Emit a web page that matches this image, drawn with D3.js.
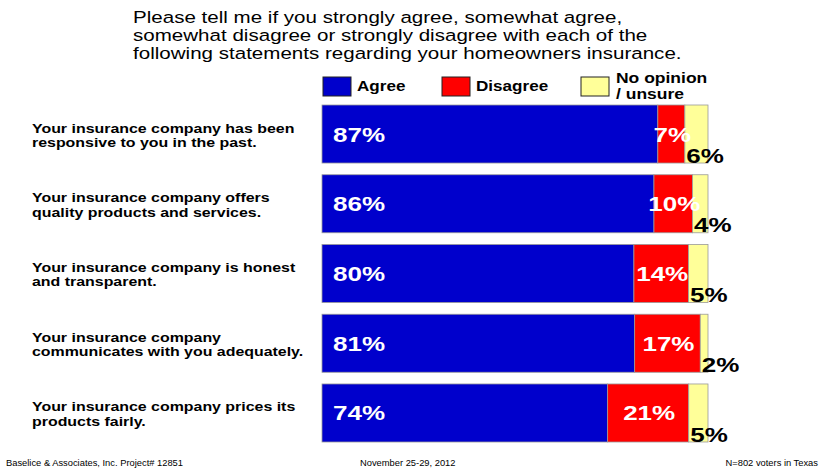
<!DOCTYPE html>
<html>
<head>
    <meta charset="utf-8">
    <style>
        body { margin: 0; background: #fff; }
        svg { display: block; font-family: "Liberation Sans", Arial, sans-serif; }
        .title { font-size: 17px; fill: #000; }
        .cat { font-size: 13.5px; font-weight: bold; fill: #000; }
        .legend text { font-size: 14px; font-weight: bold; fill: #000; }
        .val { font-size: 20px; font-weight: bold; }
        .foot { font-size: 8.5px; fill: #000; }
    </style>
</head>
<body>
<svg width="828" height="469"></svg>

<script src="https://d3js.org/d3.v7.min.js"></script>
<script>
    // statements (two lines each, as on the slide)
    let statements = [
        ["Your insurance company has been", "responsive to you in the past."],
        ["Your insurance company offers", "quality products and services."],
        ["Your insurance company is honest", "and transparent."],
        ["Your insurance company", "communicates with you adequately."],
        ["Your insurance company prices its", "products fairly."]
    ]
    let agree    = [87, 86, 80, 81, 74]
    let disagree = [7, 10, 14, 17, 21]
    let noOpinion = [6, 4, 5, 2, 5]

    let seriesKeys = ["agree", "disagree", "noOpinion"]
    let seriesNames = ["Agree", "Disagree", ["No opinion", "/ unsure"]]
    let colors = ["#0000CC", "#FF0000", "#FFFF99"]

    let titleLines = [
        "Please tell me if you strongly agree, somewhat agree,",
        "somewhat disagree or strongly disagree with each of the",
        "following statements regarding your homeowners insurance."
    ]
    let footer = ["Baselice & Associates, Inc. Project# 12851", "November 25-29, 2012", "N=802 voters in Texas"]

    let svg = d3.select("svg")

    // the slide was stretched sideways, so text gets a horizontal scale
    let stretch = (x, y, sx) => `translate(${x},${y}) scale(${sx},1)`

    // table for d3.stack
    let rows = statements.map((s, i) => ({
        idx: i,
        agree: agree[i],
        disagree: disagree[i],
        noOpinion: noOpinion[i]
    }))

    // rows are a 100% stack, so normalise each row
    let stacked = d3.stack().keys(seriesKeys).offset(d3.stackOffsetExpand)(rows)

    let x = d3.scaleLinear().domain([0, 1]).range([322, 708])
    let y = d3.scaleBand()
        .domain(rows.map(d => d.idx))
        .range([105, 442])
        .paddingInner(0.168)

    // title
    svg.append("g").selectAll("text")
        .data(titleLines)
        .join("text")
        .attr("class", "title")
        .attr("transform", (d, i) => stretch(133, 23 + i * 18, 1.21))
        .text(d => d)

    // legend
    let legendX = [323, 442, 581]
    let legend = svg.append("g").attr("class", "legend")
    seriesKeys.forEach((k, i) => {
        legend.append("rect")
            .attr("x", legendX[i])
            .attr("y", 77)
            .attr("width", 28)
            .attr("height", 19)
            .attr("fill", colors[i])
            .attr("stroke", "#222")
            .attr("stroke-width", 1)
        let name = seriesNames[i]
        if (Array.isArray(name)) {
            legend.append("text").attr("transform", stretch(legendX[i] + 35, 83, 1.25)).text(name[0])
            legend.append("text").attr("transform", stretch(legendX[i] + 35, 99, 1.25)).text(name[1])
        } else {
            legend.append("text").attr("transform", stretch(legendX[i] + 34, 91, 1.22)).text(name)
        }
    })

    // bars
    let layers = svg.append("g").selectAll("g")
        .data(stacked)
        .join("g")
        .attr("fill", (d, i) => colors[i])

    layers.selectAll("rect")
        .data(d => d)
        .join("rect")
        .attr("x", d => x(d[0]))
        .attr("y", d => y(d.data.idx))
        .attr("width", d => x(d[1]) - x(d[0]))
        .attr("height", y.bandwidth())
        .attr("stroke", "#9a9a9a")
        .attr("stroke-width", 0.8)

    // category labels
    let cats = svg.append("g").selectAll("text")
        .data(statements)
        .join("text")
        .attr("class", "cat")
        .attr("transform", (d, i) => stretch(32, y(i) + y.bandwidth() / 2 - 1.5, 1.18))

    cats.selectAll("tspan")
        .data(d => d)
        .join("tspan")
        .attr("x", 0)
        .attr("dy", (d, i) => i === 0 ? 0 : 14.5)
        .text(d => d)

    // value labels
    let agreeLayer = stacked[0], disLayer = stacked[1], noLayer = stacked[2]

    svg.append("g").selectAll("text")
        .data(agreeLayer)
        .join("text")
        .attr("class", "val")
        .attr("fill", "#fff")
        .attr("transform", d => stretch(x(d[0]) + 11, y(d.data.idx) + y.bandwidth() / 2 + 7.5, 1.3))
        .text(d => d.data.agree + "%")

    svg.append("g").selectAll("text")
        .data(disLayer)
        .join("text")
        .attr("class", "val")
        .attr("fill", "#fff")
        .attr("text-anchor", "middle")
        .attr("transform", d => stretch((x(d[0]) + x(d[1])) / 2 + 1, y(d.data.idx) + y.bandwidth() / 2 + 7.5, 1.3))
        .text(d => d.data.disagree + "%")

    svg.append("g").selectAll("text")
        .data(noLayer)
        .join("text")
        .attr("class", "val")
        .attr("fill", "#000")
        .attr("transform", d => stretch(x(d[0]) + 1.5, y(d.data.idx) + y.bandwidth() - 0.5, 1.3))
        .text(d => d.data.noOpinion + "%")

    // footer
    let footX = [6, 360, 818]
    let footAnchor = ["start", "start", "end"]
    svg.append("g").selectAll("text")
        .data(footer)
        .join("text")
        .attr("class", "foot")
        .attr("text-anchor", (d, i) => footAnchor[i])
        .attr("transform", (d, i) => stretch(footX[i], 466, 1.1))
        .text(d => d)
</script>
</body>
</html>
